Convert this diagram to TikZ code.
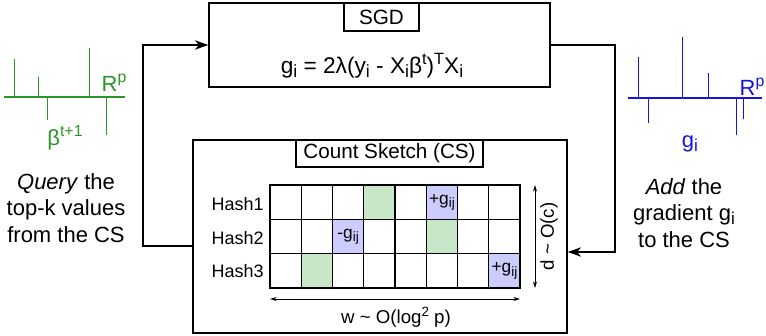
\documentclass[tikz,border=0pt]{standalone}
\usepackage{fontspec}
\setmainfont{Liberation Sans}
\usepackage{graphicx}
\usepackage{tikz}
\usetikzlibrary{arrows.meta}

\definecolor{plotgreen}{RGB}{40,150,40}
\definecolor{plotblue}{RGB}{20,20,220}
\definecolor{cellgreen}{RGB}{200,230,200}
\definecolor{cellblue}{RGB}{204,204,255}

\newcommand{\sub}[1]{\raisebox{-0.35ex}{\scalebox{0.78}{#1}}}
\newcommand{\supr}[1]{\raisebox{0.75ex}{\scalebox{0.72}{#1}}}

\begin{document}
\begin{tikzpicture}[
    x=0.75pt, y=-0.75pt,
    >={Stealth[length=10pt,width=7pt,inset=3pt]},
    box/.style={
        draw,
        rectangle,
        line width=1.1pt,
        inner sep=0pt
    },
    titlebox/.style={
        draw,
        rectangle,
        fill=white,
        line width=0.9pt,
        inner sep=0pt,
        font=\fontsize{15.5}{17}\selectfont
    },
    txt/.style={
        align=center,
        inner sep=0pt,
        font=\fontsize{16.5}{20}\selectfont
    },
    hashlbl/.style={anchor=east, inner sep=0pt, font=\fontsize{13.5}{15}\selectfont},
    celllbl/.style={inner sep=0pt, font=\fontsize{13}{15}\selectfont},
    dimlbl/.style={inner sep=0pt, font=\fontsize{14}{16}\selectfont},
    cellline/.style={line width=1.1pt},
    arrow/.style={->, line width=1.1pt},
    dimarrow/.style={{Stealth[length=5pt,width=3pt]}-{Stealth[length=5pt,width=3pt]}, line width=0.6pt},
    spike/.style={line width=0.7pt}
]
\useasboundingbox (0,0) rectangle (766,335);

% SGD block
\node[box, minimum width=255.75pt, minimum height=63pt] (sgd) at (379.5,45) {};
\node[titlebox, minimum width=56.25pt, minimum height=21pt] (sgdtitle) at (381.5,17) {SGD};
\node[txt, font=\fontsize{17}{20}\selectfont] (update) at (372,66) {g\sub{i} = 2λ(y\sub{i} - X\sub{i}β\supr{t})\supr{T}X\sub{i}};

% Count sketch block
\node[box, minimum width=280.5pt, minimum height=144.75pt] (cs) at (380,236.5) {};
\node[titlebox, minimum width=140.25pt, minimum height=20.25pt] (cstitle) at (389.5,153.5) {Count Sketch (CS)};

% filled cells
\fill[cellgreen] (363.75,185) rectangle ++(31.25,34.33);
\fill[cellgreen] (426.25,219.33) rectangle ++(31.25,34.33);
\fill[cellgreen] (301.25,253.67) rectangle ++(31.25,34.33);
\fill[cellblue] (426.25,185) rectangle ++(31.25,34.33);
\fill[cellblue] (332.5,219.33) rectangle ++(31.25,34.33);
\fill[cellblue] (488.75,253.67) rectangle ++(31.25,34.33);

% grid
\foreach \r in {1,2,3}
  \foreach \c in {1,...,8}
    \draw[cellline] ({270+(\c-1)*31.25},{185+(\r-1)*34.333}) rectangle ++(31.25,34.333);

\node[celllbl] (add1) at (441.9,202.2) {+g\sub{ij}};
\node[celllbl] (sub2) at (348.1,236.5) {-g\sub{ij}};
\node[celllbl] (add3) at (504.4,270.8) {+g\sub{ij}};

\node[hashlbl] (hash1) at (264,204) {Hash1};
\node[hashlbl] (hash2) at (264,238) {Hash2};
\node[hashlbl] (hash3) at (264,271) {Hash3};

% dimensions
\coordinate (wl) at (270,299);
\coordinate (wr) at (520,299);
\draw[dimarrow] (wl) -- (wr);
\node[dimlbl] (wlbl) at (396,317) {w \textasciitilde{} O(log\supr{2} p)};
\coordinate (dt) at (535,185);
\coordinate (db) at (535,288);
\draw[dimarrow] (dt) -- (db);
\node[dimlbl, rotate=90] (dlbl) at (549,236.5) {d \textasciitilde{} O(c)};

% connectors
\coordinate (lbend) at (143,246);
\draw[arrow] (lbend -| cs.west) -- (lbend) |- (sgd.west);
\coordinate (rbend) at (615,252);
\draw[arrow] (sgd.east) -| (rbend) -- (rbend -| cs.east);

% green vector
\draw[plotgreen, line width=1.1pt] (4,97) -- (125,97);
\draw[plotgreen, spike] (14,97) -- (14,59);
\draw[plotgreen, spike] (38,97) -- (38,77);
\draw[plotgreen, spike] (47,97) -- (47,120);
\draw[plotgreen, spike] (89,97) -- (89,48);
\draw[plotgreen, spike] (106,97) -- (106,135);
\node[txt, text=plotgreen] (rpg) at (114,83) {R\supr{p}};
\node[txt, text=plotgreen] (beta) at (65,138) {β\supr{t+1}};

% blue vector
\draw[plotblue, line width=1.1pt] (628,98) -- (762,98);
\draw[plotblue, spike] (638,98) -- (638,57);
\draw[plotblue, spike] (648,98) -- (648,123);
\draw[plotblue, spike] (682,98) -- (682,37);
\draw[plotblue, spike] (708,98) -- (708,73);
\draw[plotblue, spike] (736,98) -- (736,135);
\draw[plotblue, spike] (743,98) -- (743,119);
\node[txt, text=plotblue] (rpb) at (752,87) {R\supr{p}};
\node[txt, text=plotblue] (grad) at (690,144) {g\sub{i}};

% side texts
\node[txt] (query) at (66,208) {\textit{Query} the\\top-k values\\from the CS};
\node[txt] (add) at (684,213) {\textit{Add} the\\gradient g\sub{i}\\to the CS};

\end{tikzpicture}
\end{document}
